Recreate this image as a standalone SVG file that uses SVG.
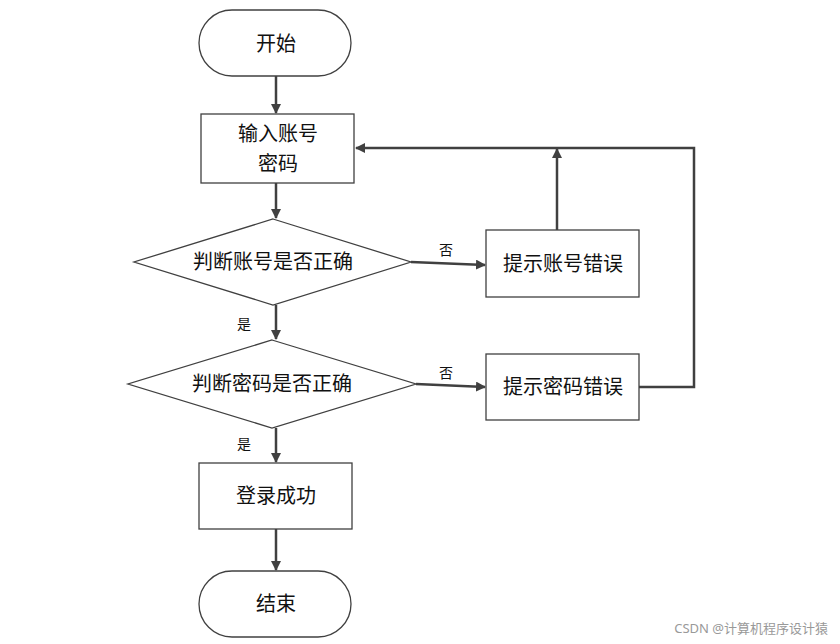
<svg xmlns="http://www.w3.org/2000/svg" width="840" height="644" viewBox="0 0 840 644">
<defs>
<marker id="ah" viewBox="0 0 10 10" refX="9" refY="5" markerWidth="10" markerHeight="10" markerUnits="userSpaceOnUse" orient="auto"><path d="M0,0 L10,5 L0,10 z" fill="#404040"/></marker>
<style>
.n{fill:#fff;stroke:#404040;stroke-width:1.3}
.t{font-family:"Liberation Serif","Noto Sans CJK SC",serif;font-size:20px;fill:#111;text-anchor:middle}
.s{font-family:"Liberation Serif","Noto Sans CJK SC",serif;font-size:14px;fill:#111;text-anchor:middle}
.c{fill:none;stroke:#404040;stroke-width:2.5;marker-end:url(#ah)}
.l{fill:none;stroke:#404040;stroke-width:2.5}
</style>
</defs>
<rect width="840" height="644" fill="#fff"/>
<g id="connectors">
<line class="c" x1="276" y1="76" x2="276" y2="113"/>
<line class="c" x1="276" y1="183" x2="276" y2="218"/>
<line class="c" x1="411" y1="262" x2="485" y2="265"/>
<line class="c" x1="557" y1="230" x2="557" y2="149"/>
<polyline class="c" points="639,387 694,387 694,148 356,148"/>
<line class="c" x1="276" y1="305" x2="276" y2="339"/>
<line class="c" x1="416" y1="384" x2="485" y2="387"/>
<line class="c" x1="276" y1="428" x2="276" y2="462"/>
<line class="c" x1="276" y1="529" x2="276" y2="570"/>
<text class="s" x="446" y="255">否</text>
<text class="s" x="446" y="378">否</text>
<text class="s" x="244" y="329">是</text>
<text class="s" x="244" y="449">是</text>
</g>
<g id="start"><rect class="n" x="199" y="10" width="152" height="66" rx="33"/><text class="t" x="276" y="51">开始</text></g>
<g id="input"><rect class="n" x="201" y="114" width="153" height="69"/><text class="t" x="278" y="141">输入账号</text><text class="t" x="278" y="171">密码</text></g>
<g id="check_account"><polygon class="n" points="273,219 411,262 273,305 134,262"/><text class="t" x="273" y="269">判断账号是否正确</text></g>
<g id="account_error"><rect class="n" x="486" y="230" width="153" height="67"/><text class="t" x="563" y="271">提示账号错误</text></g>
<g id="check_password"><polygon class="n" points="272,340 416,384 272,428 128,384"/><text class="t" x="272" y="391">判断密码是否正确</text></g>
<g id="password_error"><rect class="n" x="486" y="354" width="153" height="66"/><text class="t" x="563" y="394">提示密码错误</text></g>
<g id="success"><rect class="n" x="199" y="463" width="153" height="66"/><text class="t" x="276" y="503">登录成功</text></g>
<g id="end"><rect class="n" x="199" y="571" width="152" height="66" rx="33"/><text class="t" x="276" y="611">结束</text></g>
<text x="828" y="633" font-family="'Noto Sans','Noto Sans CJK SC',sans-serif" font-size="13" fill="#999" text-anchor="end">CSDN @计算机程序设计猿</text>
</svg>
